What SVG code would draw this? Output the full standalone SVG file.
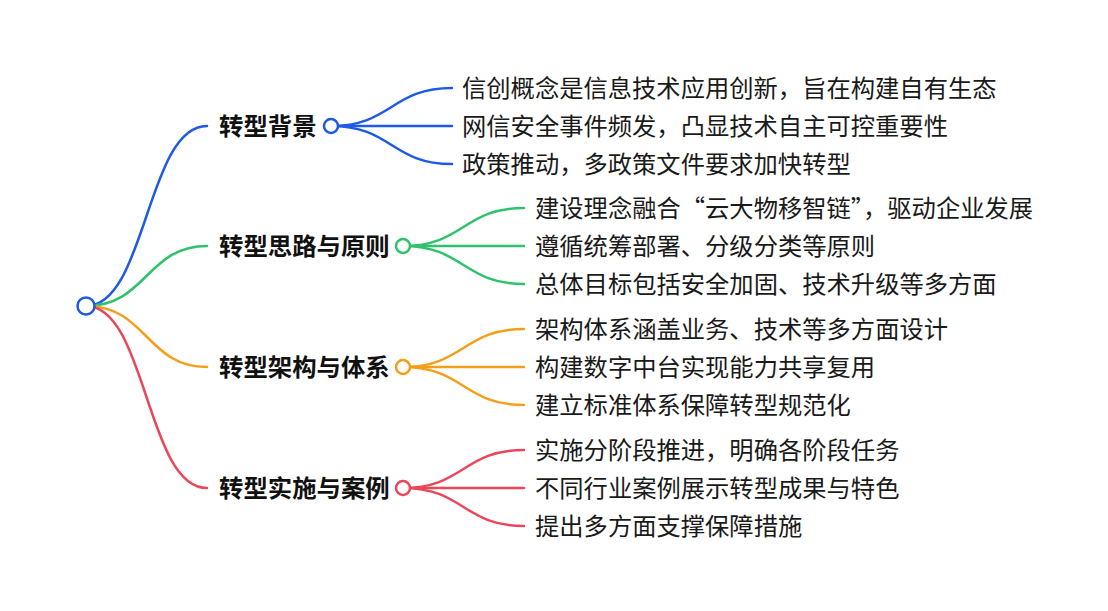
<svg xmlns="http://www.w3.org/2000/svg" width="1108" height="611" viewBox="0 0 1108 611">
<style>
.c{fill:none;stroke-width:2.5;stroke-linecap:round}
.b{stroke:#1f5ae6}.g{stroke:#2fc26c}.o{stroke:#f59e18}.r{stroke:#e8485a}
.n{fill:#fff;stroke-width:2.5}
.t1{font-family:"Noto Sans CJK SC","Noto Sans",sans-serif;font-size:24.4px;font-weight:700;fill:#111}
.t2{font-family:"Noto Sans CJK SC","Noto Sans",sans-serif;font-size:24.3px;font-weight:400;fill:#1a1a1a}
</style>
<rect width="1108" height="611" fill="#fff"/>
<g id="connectors">
<path class="c b" d="M86,306 C146.5,306 146.5,126 207,126"/>
<path class="c g" d="M86,306 C146.5,306 146.5,246 207,246"/>
<path class="c o" d="M86,306 C146.5,306 146.5,367 207,367"/>
<path class="c r" d="M86,306 C146.5,306 146.5,488 207,488"/>
<path class="c b" d="M331,126 C391.5,126 391.5,88 452,88"/>
<path class="c b" d="M331,126 L452,126"/>
<path class="c b" d="M331,126 C391.5,126 391.5,164 452,164"/>
<path class="c g" d="M403,246 C463.5,246 463.5,208 524,208"/>
<path class="c g" d="M403,246 L524,246"/>
<path class="c g" d="M403,246 C463.5,246 463.5,284 524,284"/>
<path class="c o" d="M403,367 C463.5,367 463.5,329 524,329"/>
<path class="c o" d="M403,367 L524,367"/>
<path class="c o" d="M403,367 C463.5,367 463.5,405 524,405"/>
<path class="c r" d="M403,488 C463.5,488 463.5,450 524,450"/>
<path class="c r" d="M403,488 L524,488"/>
<path class="c r" d="M403,488 C463.5,488 463.5,526 524,526"/>
</g>
<g id="root"><circle class="n b" cx="86" cy="306" r="8.5"/></g>
<g id="n1"><text class="t1" x="219" y="135">转型背景</text><circle class="n b" cx="331" cy="126" r="7"/></g>
<g id="n2"><text class="t1" x="219" y="255">转型思路与原则</text><circle class="n g" cx="403" cy="246" r="7"/></g>
<g id="n3"><text class="t1" x="219" y="376">转型架构与体系</text><circle class="n o" cx="403" cy="367" r="7"/></g>
<g id="n4"><text class="t1" x="219" y="497">转型实施与案例</text><circle class="n r" cx="403" cy="488" r="7"/></g>
<g id="l1a"><text class="t2" x="462" y="97">信创概念是信息技术应用创新，旨在构建自有生态</text></g>
<g id="l1b"><text class="t2" x="462" y="135">网信安全事件频发，凸显技术自主可控重要性</text></g>
<g id="l1c"><text class="t2" x="462" y="173">政策推动，多政策文件要求加快转型</text></g>
<g id="l2a"><text class="t2" x="535" y="217">建设理念融合“云大物移智链”，驱动企业发展</text></g>
<g id="l2b"><text class="t2" x="535" y="255">遵循统筹部署、分级分类等原则</text></g>
<g id="l2c"><text class="t2" x="535" y="293">总体目标包括安全加固、技术升级等多方面</text></g>
<g id="l3a"><text class="t2" x="535" y="338">架构体系涵盖业务、技术等多方面设计</text></g>
<g id="l3b"><text class="t2" x="535" y="376">构建数字中台实现能力共享复用</text></g>
<g id="l3c"><text class="t2" x="535" y="414">建立标准体系保障转型规范化</text></g>
<g id="l4a"><text class="t2" x="535" y="459">实施分阶段推进，明确各阶段任务</text></g>
<g id="l4b"><text class="t2" x="535" y="497">不同行业案例展示转型成果与特色</text></g>
<g id="l4c"><text class="t2" x="535" y="535">提出多方面支撑保障措施</text></g>
</svg>
